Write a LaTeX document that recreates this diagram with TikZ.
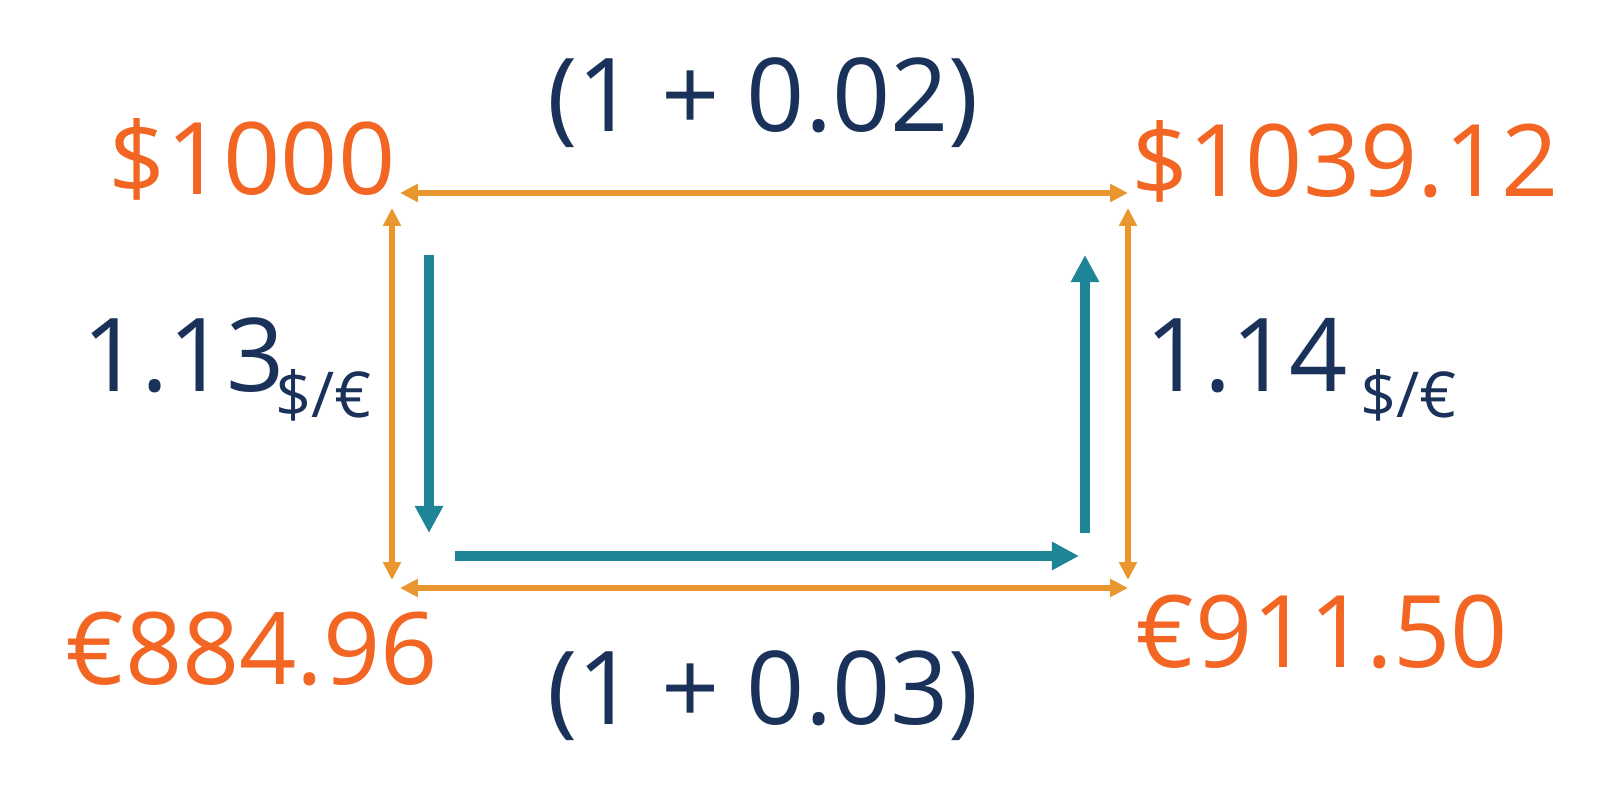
\documentclass[tikz,border=0pt]{standalone}
\usepackage{fontspec}
\setmainfont{Open Sans}
\usepackage{tikz}
\usetikzlibrary{arrows.meta, positioning, calc}
\definecolor{amount}{RGB}{242,101,34}
\definecolor{frame}{RGB}{234,150,46}
\definecolor{navy}{RGB}{26,50,90}
\definecolor{teal}{RGB}{30,133,150}
\tikzset{%
	amt/.style={text=amount, inner sep=0pt, anchor=base, font=\fontsize{28.5}{32}\selectfont},
	rate/.style={text=navy, inner sep=0pt, anchor=base, font=\fontsize{29}{32}\selectfont},
	unit/.style={text=navy, inner sep=0pt, anchor=base west, font=\fontsize{18}{20}\selectfont},
	conv/.style={draw=frame, line width=1.45pt, {Triangle[length=5.1pt,width=4.9pt]}-{Triangle[length=5.1pt,width=4.9pt]}},
	route/.style={draw=teal, line width=2.6pt, -{Triangle[length=7.7pt,width=7.6pt]}}
}

\begin{document}
\begin{tikzpicture}
	% amounts at the corners
	\node[amt] (usdnow) at (2.52,6.17) {\$1000};
	\node[amt] (usdlater) at (13.45,6.15) {\$1039.12};
	\node[amt] (eurnow) at (2.52,1.27) {€884.96};
	\node[amt] (eurlater) at (13.22,1.44) {€911.50};

	% rates
	\node[rate] (inttop) at (7.63,6.80) {(1 + 0.02)};
	\node[rate] (intbot) at (7.63,0.87) {(1 + 0.03)};
	\node[rate, anchor=base west] (spot) at (0.82,4.20) {1.13};
	\node[unit] (spotunit) at ([xshift=-0.11cm, yshift=-0.26cm]spot.base east) {\$/€};
	\node[rate, anchor=base west] (fwd) at (11.45,4.20) {1.14};
	\node[unit] (fwdunit) at ([xshift=0.11cm, yshift=-0.26cm]fwd.base east) {\$/€};

	% frame
	\coordinate (tl) at (4.00,6.19);
	\coordinate (tr) at (11.28,6.19);
	\coordinate (bl) at (4.00,2.24);
	\coordinate (br) at (11.28,2.24);
	\coordinate (lt) at (3.92,6.04);
	\coordinate (lb) at (3.92,2.32);
	\coordinate (rt) at (11.28,6.04);
	\coordinate (rb) at (11.28,2.32);

	\draw[conv] (tl) -- (tr);
	\draw[conv] (bl) -- (br);
	\draw[conv] (lt) -- (lb);
	\draw[conv] (rt) -- (rb);

	% route
	\coordinate (a1) at (4.29,5.57);
	\coordinate (a2) at (4.29,2.79);
	\coordinate (b1) at (4.55,2.56);
	\coordinate (b2) at (10.79,2.56);
	\coordinate (c1) at (10.85,2.79);
	\coordinate (c2) at (10.85,5.57);

	\draw[route] (a1) -- (a2);
	\draw[route] (b1) -- (b2);
	\draw[route] (c1) -- (c2);

	\pgfresetboundingbox
	\useasboundingbox (0,0) rectangle (16.16,8.12);
\end{tikzpicture}
\end{document}
